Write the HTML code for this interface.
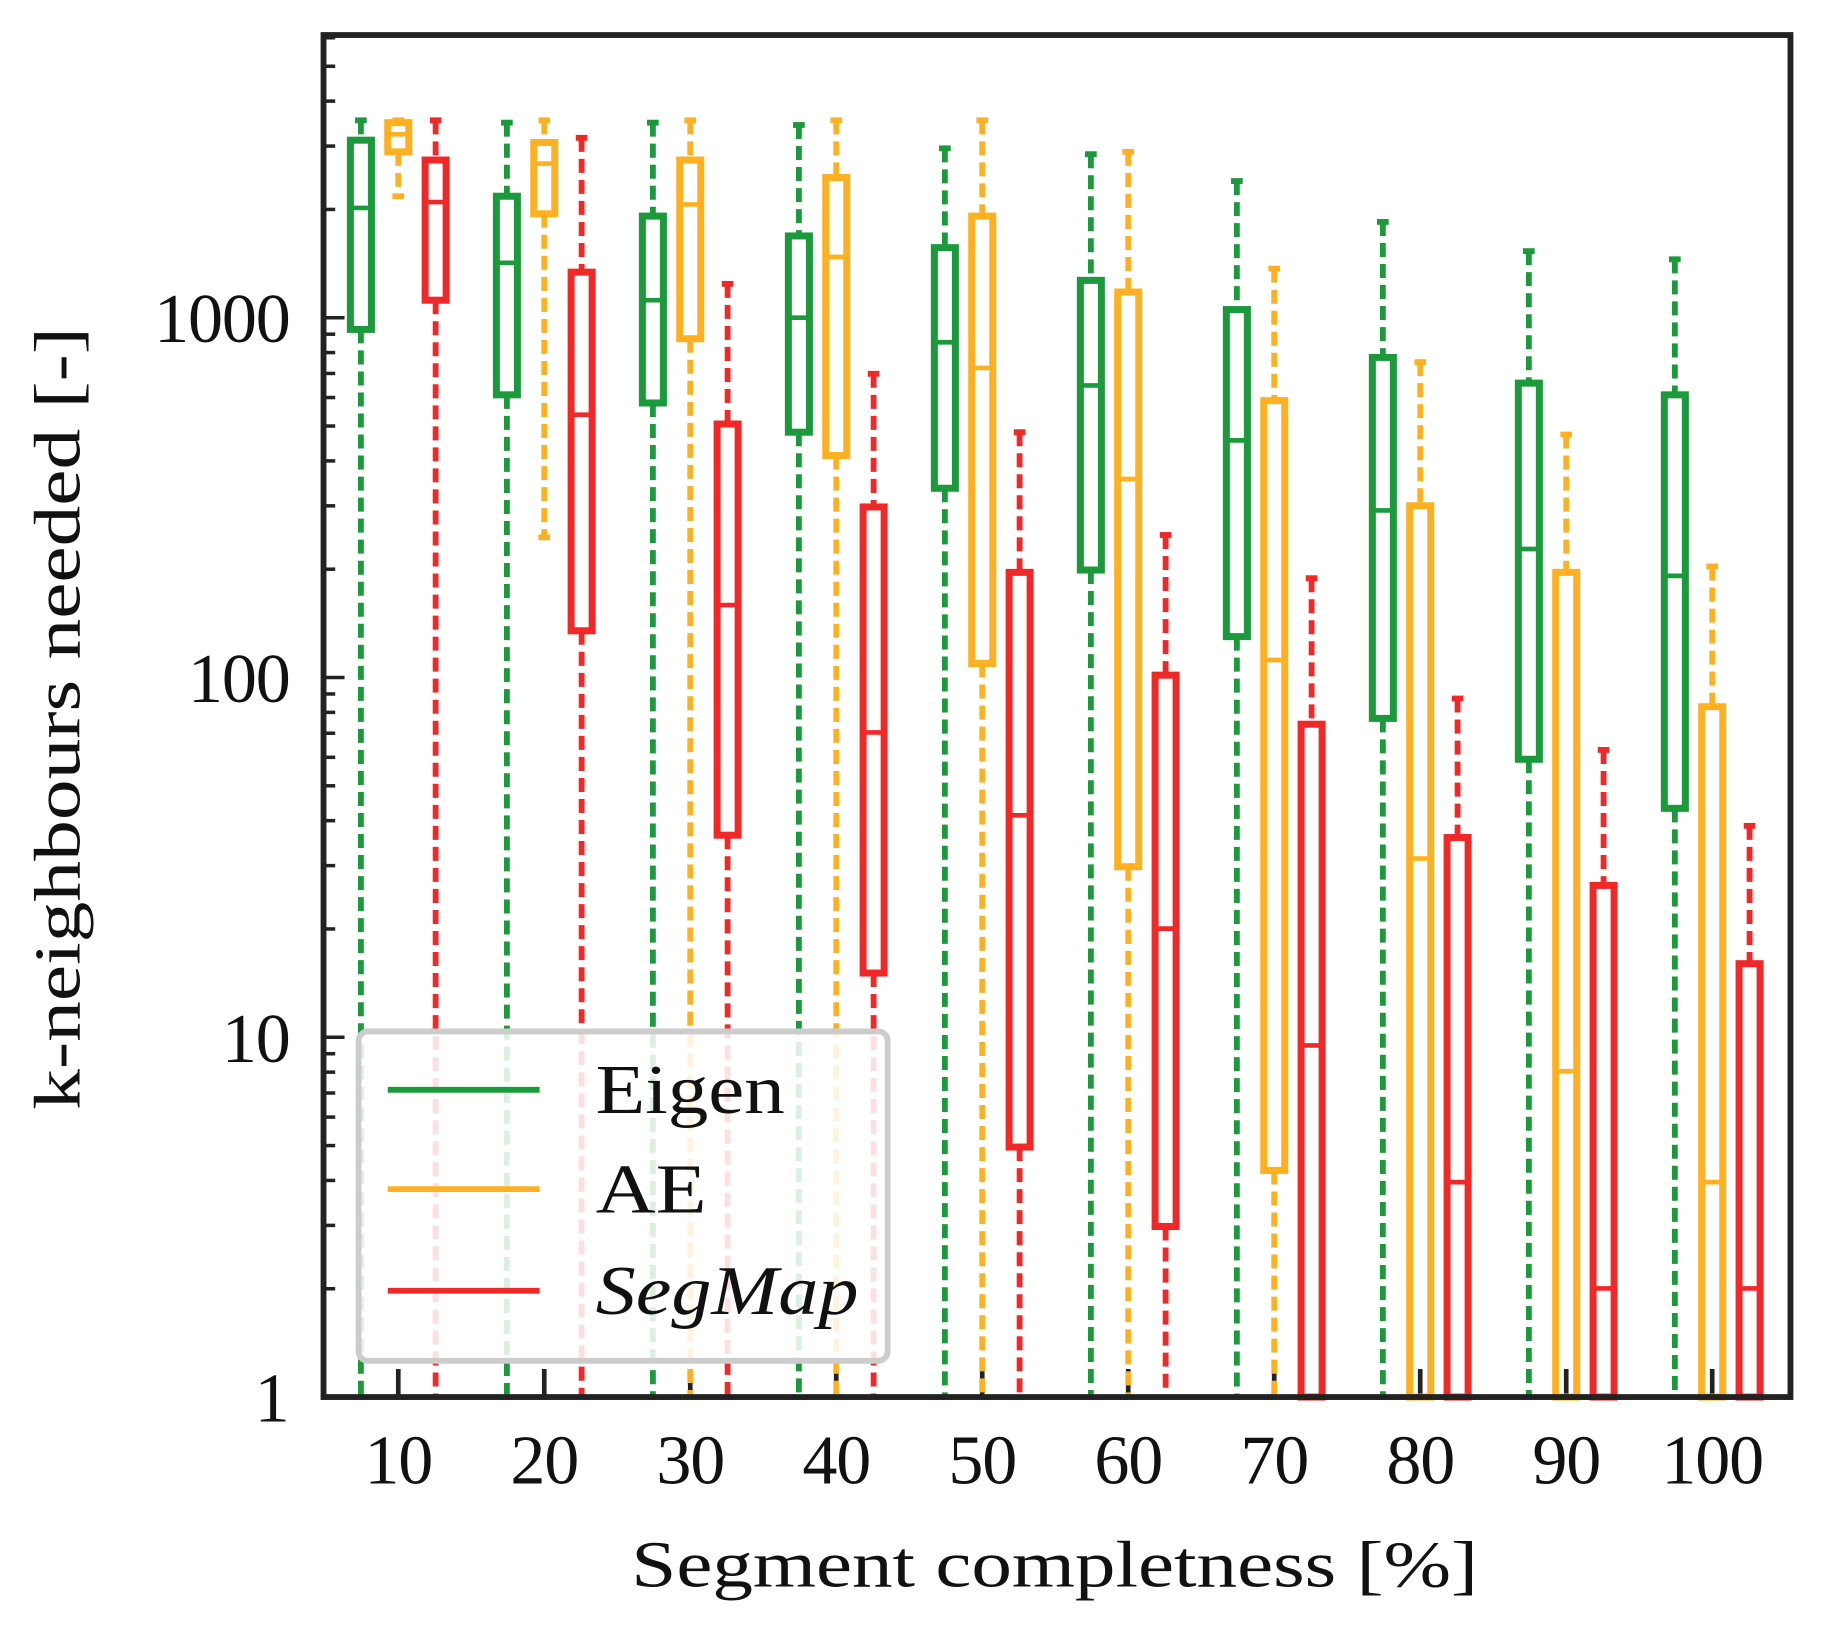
<!DOCTYPE html>
<html><head><meta charset="utf-8"><style>
html,body{margin:0;padding:0;background:#fff}
svg{display:block}
text{font-family:"Liberation Serif",serif;fill:#111}
</style></head><body>
<svg id="s" width="1822" height="1626" viewBox="0 0 1560 1392" preserveAspectRatio="none" xmlns="http://www.w3.org/2000/svg">
<g id="g"></g>
<rect x="277" y="30" width="1256" height="1166" fill="none" stroke="#222" stroke-width="5"/>
<text x="248" y="293" font-size="60" text-anchor="end" letter-spacing="-1">1000</text>
<text x="248" y="601" font-size="60" text-anchor="end" letter-spacing="-1">100</text>
<text x="248" y="909" font-size="60" text-anchor="end" letter-spacing="-1">10</text>
<text x="248" y="1217" font-size="60" text-anchor="end">1</text>
<text transform="translate(68,615) rotate(-90)" font-size="56" text-anchor="middle" textLength="670" lengthAdjust="spacingAndGlyphs">k-neighbours needed [-]</text>
<text x="903" y="1358" font-size="56" text-anchor="middle" textLength="725" lengthAdjust="spacingAndGlyphs">Segment completness [%]</text>
<g id="leg">
<rect x="307" y="883" width="453" height="282" rx="8" fill="#fff" fill-opacity="0.85" stroke="#ccc" stroke-width="5"/>
<line x1="332" y1="933" x2="462" y2="933" stroke="#1a9a3a" stroke-width="5"/>
<line x1="332" y1="1018" x2="462" y2="1018" stroke="#ffb020" stroke-width="5"/>
<line x1="332" y1="1105" x2="462" y2="1105" stroke="#f02828" stroke-width="5"/>
<text x="510" y="953" font-size="60" textLength="162" lengthAdjust="spacingAndGlyphs">Eigen</text>
<text x="510" y="1038" font-size="60" textLength="95" lengthAdjust="spacingAndGlyphs">AE</text>
<text x="510" y="1125" font-size="60" font-style="italic" textLength="225" lengthAdjust="spacingAndGlyphs">SegMap</text>
</g>
</svg>
<script>
var g=document.getElementById('g');var h='';
var C={g:'#1a9a3a',o:'#ffb020',r:'#f02828'};
var D=[
 {g:[103,120,282,178,1196],o:[103,105,130,115,168],r:[103,137,257,173,1196]},
 {g:[105,168,338,225,1196],o:[103,122,183,140,460],r:[118,233,540,355,1196]},
 {g:[105,185,345,257,1196],o:[103,137,290,175,1196],r:[243,363,715,518,1196]},
 {g:[107,202,370,272,1196],o:[103,152,390,220,1196],r:[320,434,833,627,1196]},
 {g:[127,212,418,293,1196],o:[103,185,568,315,1196],r:[370,490,982,698,1196]},
 {g:[132,240,488,330,1196],o:[130,250,742,410,1196],r:[458,578,1050,795,1190]},
 {g:[155,265,545,377,1196],o:[230,343,1002,565,1196],r:[495,620,1196,895,1196]},
 {g:[190,306,615,437,1196],o:[310,433,1196,735,1196],r:[598,717,1196,1012,1196]},
 {g:[215,328,650,470,1196],o:[372,490,1196,917,1196],r:[642,758,1196,1103,1196]},
 {g:[222,338,692,493,1196],o:[485,605,1196,1012,1196],r:[707,825,1196,1103,1196]}];
for(var d=0;d<4;d++)for(var k=1;k<10;k++){var v=Math.log10(k)+d;var y=1196-308*v;if(y<32)continue;var L=k==1?18:10;
 h+='<line x1="277" y1="'+y+'" x2="'+(277+L)+'" y2="'+y+'" stroke="#222" stroke-width="3"/>';}
for(var i=0;i<10;i++){var cx=341+125*i;
 h+='<line x1="'+cx+'" y1="1196" x2="'+cx+'" y2="1172" stroke="#222" stroke-width="4"/>';
 h+='<text x="'+cx+'" y="1270" font-size="60" text-anchor="middle" letter-spacing="-1">'+(10*(i+1))+'</text>';
 [['g',-32],['o',0],['r',32]].forEach(function(p){var a=D[i][p[0]],x=cx+p[1],c=C[p[0]],w=9;
  h+='<line x1="'+x+'" y1="'+a[0]+'" x2="'+x+'" y2="'+a[1]+'" stroke="'+c+'" stroke-width="5" stroke-dasharray="12,6"/>';
  h+='<line x1="'+x+'" y1="'+a[2]+'" x2="'+x+'" y2="'+a[4]+'" stroke="'+c+'" stroke-width="5" stroke-dasharray="12,6"/>';
  h+='<line x1="'+(x-5)+'" y1="'+a[0]+'" x2="'+(x+5)+'" y2="'+a[0]+'" stroke="'+c+'" stroke-width="5"/>';
  if(a[4]<1190)h+='<line x1="'+(x-5)+'" y1="'+a[4]+'" x2="'+(x+5)+'" y2="'+a[4]+'" stroke="'+c+'" stroke-width="5"/>';
  h+='<rect x="'+(x-w)+'" y="'+a[1]+'" width="'+(2*w)+'" height="'+(a[2]-a[1])+'" fill="none" stroke="'+c+'" stroke-width="6"/>';
  h+='<line x1="'+(x-w)+'" y1="'+a[3]+'" x2="'+(x+w)+'" y2="'+a[3]+'" stroke="'+c+'" stroke-width="4"/>';
 });}
g.innerHTML=h;
</script>
</body></html>
